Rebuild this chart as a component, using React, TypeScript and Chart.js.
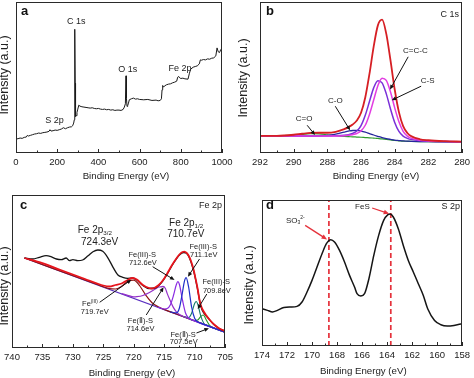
import React, { useEffect, useRef } from 'react';
import { Chart, registerables } from 'chart.js';

Chart.register(...registerables);

const FONT = '"Liberation Sans", Arial, Helvetica, sans-serif';
Chart.defaults.font.family = FONT;

// ---------------- Panel a : survey ----------------
const aEnergy = [0, 10, 20, 30, 40, 50, 55, 60, 70, 80, 90, 100, 110, 120, 130, 140, 150, 160, 165, 170, 180, 190, 200, 210, 220, 230, 240, 250, 260, 270, 275, 280, 283, 284.5, 286, 287.5, 289, 292, 296, 300, 305, 310, 320, 330, 340, 350, 360, 370, 380, 390, 400, 410, 420, 430, 440, 450, 460, 470, 480, 490, 500, 510, 520, 526, 531, 534, 536, 539, 542, 546, 550, 560, 570, 580, 590, 600, 620, 640, 660, 680, 690, 700, 706, 709, 712, 716, 720, 730, 740, 750, 760, 770, 780, 785, 790, 795, 800, 810, 820, 835, 842, 848, 860, 870, 880, 890, 895, 900, 910, 920, 930, 940, 950, 960, 970, 976, 982, 988, 994, 1000];
const aCounts = [42, 43, 45, 44, 47, 48, 53, 51, 53, 55, 57, 58, 60, 59, 61, 62, 63, 65, 70, 66, 67, 69, 68, 70, 72, 76, 73, 76, 78, 79, 82, 90, 100, 220, 372, 210, 110, 112, 122, 132, 144, 141, 139, 138, 137, 136, 135, 136, 134, 133, 134, 132, 131, 132, 130, 131, 129, 130, 128, 129, 129, 128, 131, 138, 148, 232, 165, 140, 142, 150, 160, 163, 165, 162, 163, 161, 160, 161, 158, 159, 157, 158, 163, 190, 203, 198, 201, 205, 207, 208, 211, 213, 216, 228, 230, 226, 224, 225, 223, 222, 240, 252, 258, 260, 262, 268, 280, 279, 281, 280, 283, 282, 285, 286, 292, 316, 304, 302, 311, 309];
const aTicks = [0, 200, 400, 600, 800, 1000];
const aMinor = [100, 300, 500, 700, 900];

// ---------------- Panel b : C 1s ----------------
const bEnergy = [292, 291, 290, 289.5, 289, 288.5, 288, 287.5, 287, 286.75, 286.5, 286.25, 286, 285.75, 285.5, 285.25, 285, 284.75, 284.5, 284.25, 284, 283.75, 283.5, 283.25, 283, 282.5, 282, 281, 280];
const bEnvelope = [51, 51.3, 54.6, 57.6, 60.1, 60.6, 60.6, 63.5, 71.4, 77.4, 85.2, 97.2, 120.3, 166, 236.8, 318.4, 382, 399, 356.5, 277, 190.1, 122.3, 80.4, 59.9, 49.7, 41.1, 38.2, 35.4, 33.9];
const bCCC = [51, 51, 50.9, 50.8, 50.7, 50.7, 50.8, 51, 51.8, 52.8, 54.8, 58.5, 66.3, 83, 115.5, 158.5, 201.5, 224, 217.5, 182.5, 135, 93.5, 65, 50.6, 43.7, 38, 36.2, 34.4, 33.5];
const bCS = [51, 50.8, 50.9, 50.9, 50.9, 50.9, 51.1, 51.5, 52.9, 54.7, 58.5, 65.9, 82, 112.8, 154, 195, 216.5, 210, 177, 131.8, 91.5, 64.5, 50.4, 43.8, 40.1, 36.8, 35.5, 34.2, 33.4];
const bCO = [51, 50.8, 50.8, 50.6, 50.7, 51.1, 52.6, 56.4, 62.7, 65.6, 67.4, 67.5, 65.8, 62.7, 58.3, 53.9, 49.9, 46, 43, 40.7, 38.6, 37.3, 36.1, 35.5, 34.9, 34.3, 34, 33.4, 33.1];
const bCdO = [51, 51.1, 53.5, 55.9, 57.8, 57.3, 54.6, 51.6, 49.5, 48.9, 48.5, 47.8, 47.2, 46.3, 45.5, 44.5, 43.5, 42, 40.5, 39, 37.5, 36.5, 35.5, 35, 34.5, 34, 33.8, 33.3, 33];
const bTicks = [292, 290, 288, 286, 284, 282, 280];
const bMinor = [291, 289, 287, 285, 283, 281];

// ---------------- Panel c : Fe 2p ----------------
const cRawE = [737.95, 736.6, 735.5, 734.4, 733.6, 732.7, 731.9, 731.1, 730.55, 730.0, 729.2, 728.4, 727.5, 726.7, 725.9, 725.1, 724.3, 723.4, 722.6, 721.8, 721.0, 720.15, 719.5, 718.5, 717.5, 716.5, 715.5, 714.5, 713.5, 712.5, 711.8, 711.2, 710.6, 710, 709.5, 709, 708.5, 708, 707, 706, 705];
const cRawI = [90, 89, 90.7, 92.3, 91.3, 89, 88.3, 90, 87.3, 88.3, 87.3, 88, 92.3, 96.3, 98, 96.7, 90.7, 80.7, 73, 70.7, 69.7, 70, 68, 62.5, 59.5, 60, 65, 74, 84.5, 93, 95.5, 94, 86, 73, 58, 42, 35, 31.5, 24.5, 19.5, 16.8];
const cFitE = [737.95, 735, 732, 730, 728, 726, 725, 724, 723, 722, 721, 720.2, 719.5, 718.5, 717.5, 717, 716.5, 716, 715.5, 715, 714.5, 714, 713.5, 713, 712.5, 712, 711.7, 711.3, 711, 710.6, 710.2, 709.8, 709.5, 709.2, 709, 708.7, 708.2, 707.5, 707, 706.5, 706, 705.5, 705];
const cFitI = [90, 84.8, 78, 73.5, 69, 64.5, 62.5, 61.5, 63, 64.5, 68, 70, 68.5, 63, 60, 59.5, 60.5, 62.5, 65.5, 69.5, 74.5, 80, 85, 89.5, 93.5, 96, 96.3, 95, 92.5, 87, 79, 68, 59, 48, 43, 38.5, 33.5, 28, 24.7, 22, 19.8, 18.2, 17];
const cBgE = [737.95, 705];
const cBgI = [90, 15.8];
const cSatE = [737.95, 726, 725, 724, 723, 722, 721, 720, 719, 718, 717, 716, 715, 713, 710, 705];
const cSatI = [90, 63.5, 61.3, 59.4, 59, 61.7, 66.6, 67.9, 62, 52.6, 45.3, 41.3, 38.6, 34, 27.2, 15.8];
const cFe2aE = [722, 721, 720, 719.5, 718.5, 717.5, 716.5, 716, 715.5, 715.2, 714.8, 714.5, 714, 713.5, 713, 712.5, 712, 711, 710, 705];
const cFe2aI = [54.4, 52.7, 51.1, 51.3, 52.5, 55.2, 58.9, 60.8, 61.2, 61.6, 59.5, 54.4, 47.2, 40.6, 36.2, 33.6, 32, 29.5, 27.2, 15.8];
const cFe3aE = [716, 715, 714.5, 714, 713.5, 713, 712.75, 712.5, 712, 711.5, 711, 710.5, 705];
const cFe3aI = [40.8, 39, 39.5, 43, 52, 63.5, 66.4, 63.5, 48, 35, 30, 28.3, 15.8];
const cFe3bE = [714, 713, 712.5, 712, 711.7, 711.4, 711, 710.5, 710, 709.5, 709, 705];
const cFe3bI = [36.2, 35.1, 40, 55.7, 66.2, 70.3, 61.3, 41, 29.7, 26.2, 24.9, 15.8];
const cFe3cE = [712, 711, 710.5, 710, 709.73, 709.5, 709, 708.5, 708, 705];
const cFe3cI = [31.7, 30.3, 34.7, 44.6, 46.5, 44, 32.1, 24.8, 22.7, 15.8];
const cFe2bE = [711, 710, 709.5, 709, 708.6, 708, 707.5, 707, 705];
const cFe2bI = [29.4, 27.4, 27.9, 31.5, 33, 27.1, 22.4, 20.4, 15.8];
const cTicks = [740, 735, 730, 725, 720, 715, 710, 705];
const cMinor = [737.5, 732.5, 727.5, 722.5, 717.5, 712.5, 707.5];

// ---------------- Panel d : S 2p ----------------
const dEnergy = [174, 173.56, 173.16, 172.77, 172.25, 171.7, 171.2, 170.8, 170.4, 170.0, 169.6, 169.2, 168.85, 168.5, 168.2, 167.8, 167.4, 167.0, 166.6, 166.4, 166.1, 165.8, 165.45, 165.06, 164.67, 164.27, 163.93, 163.75, 163.5, 163.1, 162.7, 162.3, 161.9, 161.5, 161.1, 160.75, 160.2, 159.7, 159.18, 158.65, 158.0];
const dCounts = [37.3, 35.6, 34, 35.6, 38.6, 39, 39.6, 44, 54, 65.6, 79, 92.3, 102.3, 106.3, 104, 95.6, 84, 70.6, 59, 52.3, 50, 52.3, 67.3, 90.6, 110.6, 125.6, 131.3, 132, 129, 117.3, 100.6, 85.6, 74, 62.3, 50.6, 37.3, 25.6, 21.3, 20, 20.6, 22.3];
const dRefLines = [168.65, 163.7];
const dTicks = [174, 172, 170, 168, 166, 164, 162, 160, 158];
const dMinor = [173, 171, 169, 167, 165, 163, 161, 159];

type Seg = [string, 'n' | 'sub' | 'sup'];
interface Label { x: number; y: number; segs: Seg[]; size: number; color?: string }
interface Arrow { x1: number; y1: number; x2: number; y2: number; color?: string; width?: number; head?: number }

const aLabels: Label[] = [
  { x: 292, y: 394, segs: [['C 1s', 'n']], size: 9 },
  { x: 543, y: 252, segs: [['O 1s', 'n']], size: 9 },
  { x: 796, y: 255, segs: [['Fe 2p', 'n']], size: 9 },
  { x: 187, y: 99, segs: [['S 2p', 'n']], size: 9 },
];

const bLabels: Label[] = [
  { x: 282.77, y: 305, segs: [['C=C-C', 'n']], size: 8 },
  { x: 282.04, y: 217, segs: [['C-S', 'n']], size: 8 },
  { x: 287.53, y: 156, segs: [['C-O', 'n']], size: 8 },
  { x: 289.38, y: 102, segs: [['C=O', 'n']], size: 8 },
];
const bArrows: Arrow[] = [
  { x1: 283.2, y1: 288, x2: 284.28, y2: 190 },
  { x1: 282.43, y1: 200, x2: 284.18, y2: 158 },
  { x1: 287.53, y1: 140, x2: 286.65, y2: 68 },
  { x1: 289.2, y1: 83, x2: 288.73, y2: 54 },
];

const cLabels: Label[] = [
  { x: 726.4, y: 118, segs: [['Fe 2p', 'n'], ['3/2', 'sub']], size: 10 },
  { x: 725.6, y: 106, segs: [['724.3eV', 'n']], size: 10 },
  { x: 711.4, y: 124.5, segs: [['Fe 2p', 'n'], ['1/2', 'sub']], size: 10 },
  { x: 711.45, y: 114, segs: [['710.7eV', 'n']], size: 10 },
  { x: 718.6, y: 92.7, segs: [['Fe(III)-S', 'n']], size: 7.5 },
  { x: 718.5, y: 85, segs: [['712.6eV', 'n']], size: 7.5 },
  { x: 708.6, y: 101.2, segs: [['Fe(III)-S', 'n']], size: 7.5 },
  { x: 708.5, y: 93.5, segs: [['711.1eV', 'n']], size: 7.5 },
  { x: 706.45, y: 65.7, segs: [['Fe(III)-S', 'n']], size: 7.5 },
  { x: 706.35, y: 57.3, segs: [['709.8eV', 'n']], size: 7.5 },
  { x: 727.2, y: 44, segs: [['Fe', 'n'], ['(III)', 'sup']], size: 7.5 },
  { x: 726.4, y: 36.3, segs: [['719.7eV', 'n']], size: 7.5 },
  { x: 718.9, y: 27.3, segs: [['Fe(Ⅱ)-S', 'n']], size: 7.5 },
  { x: 718.9, y: 19.3, segs: [['714.6eV', 'n']], size: 7.5 },
  { x: 711.9, y: 13.5, segs: [['Fe(Ⅱ)-S', 'n']], size: 7.5 },
  { x: 711.8, y: 6, segs: [['707.5eV', 'n']], size: 7.5 },
];
const cArrows: Arrow[] = [
  { x1: 716.9, y1: 81.3, x2: 713.3, y2: 68 },
  { x1: 709.2, y1: 89, x2: 711.1, y2: 71.3 },
  { x1: 708.0, y1: 54, x2: 709.5, y2: 39 },
  { x1: 725.6, y1: 45.7, x2: 720.4, y2: 68.3 },
  { x1: 717.95, y1: 33, x2: 715.1, y2: 60.7 },
  { x1: 709.7, y1: 15, x2: 707.65, y2: 19.7 },
];

const RED = '#e5323c';
const dLabels: Label[] = [
  { x: 165.97, y: 139, segs: [['FeS', 'n']], size: 8 },
  { x: 171.33, y: 125.6, segs: [['SO', 'n'], ['3', 'sub'], ['2-', 'sup']], size: 8 },
];
const dArrows: Arrow[] = [
  { x1: 165.19, y1: 138, x2: 163.83, y2: 132.3, color: RED, width: 1.3, head: 6 },
  { x1: 170.55, y1: 120.6, x2: 168.8, y2: 106.6, color: RED, width: 1.3, head: 6 },
];

const pts = (xs: number[], ys: number[]) => xs.map((x, i) => ({ x, y: ys[i] }));

const smooth = { cubicInterpolationMode: 'monotone' as const, pointRadius: 0, fill: false };

interface PanelCfg {
  key: string; left: number; top: number;
  axisW: number; axisH: number; padTop: number; padRight: number;
  xMin: number; xMax: number; reverse: boolean; yMax: number;
  ticks: number[]; minor: number[];
  letter: string; letterDx: number; letterDy: number;
  corner: string | null; cornerDx: number; cornerDy: number;
  xTitle: [number, number]; yTitle: [number, number];
  labels: Label[]; arrows: Arrow[];
  datasets: any[];
}

const PW = 237, PH = 189;
const D_YMAX = 146;

const panels: PanelCfg[] = [
  {
    key: 'a', left: 0, top: 0, axisW: 16, axisH: 36, padTop: 2, padRight: 15,
    xMin: 0, xMax: 1000, reverse: false, yMax: 454, ticks: aTicks, minor: aMinor,
    letter: 'a', letterDx: 5, letterDy: 13, corner: null, cornerDx: 0, cornerDy: 0,
    xTitle: [126, 176], yTitle: [5, 75], labels: aLabels, arrows: [],
    datasets: [{ data: pts(aEnergy, aCounts), borderColor: '#1a1a1a', borderWidth: 1, tension: 0, pointRadius: 0, fill: false }],
  },
  {
    key: 'b', left: 237, top: 0, axisW: 23, axisH: 36, padTop: 2, padRight: 9,
    xMin: 280, xMax: 292, reverse: true, yMax: 452, ticks: bTicks, minor: bMinor,
    letter: 'b', letterDx: 6, letterDy: 13, corner: 'C 1s', cornerDx: 3, cornerDy: 15,
    xTitle: [139, 176], yTitle: [6.7, 78], labels: bLabels, arrows: bArrows,
    datasets: [
      { data: pts(bEnergy, bEnvelope), borderColor: '#d61f24', borderWidth: 1.8, ...smooth },
      { data: pts(bEnergy, bCCC), borderColor: '#e23de2', borderWidth: 1.5, ...smooth },
      { data: pts(bEnergy, bCS), borderColor: '#7a2fd8', borderWidth: 1.5, ...smooth },
      { data: pts(bEnergy, bCO), borderColor: '#26269c', borderWidth: 1.3, ...smooth },
      { data: pts(bEnergy, bCdO), borderColor: '#2f9a2f', borderWidth: 1.2, ...smooth },
    ],
  },
  {
    key: 'c', left: 0, top: 189, axisW: 12, axisH: 30, padTop: 6, padRight: 10,
    xMin: 705, xMax: 740, reverse: true, yMax: 153, ticks: cTicks, minor: cMinor,
    letter: 'c', letterDx: 8, letterDy: 14, corner: 'Fe 2p', cornerDx: 3, cornerDy: 13,
    xTitle: [132, 184], yTitle: [5, 97], labels: cLabels, arrows: cArrows,
    datasets: [
      { data: pts(cFitE, cFitI), borderColor: '#e8141c', borderWidth: 1.8, ...smooth },
      { data: pts(cRawE, cRawI), borderColor: '#151515', borderWidth: 1.3, ...smooth },
      { data: pts(cFe3bE, cFe3bI), borderColor: '#1f2fc8', borderWidth: 1.2, ...smooth },
      { data: pts(cFe3aE, cFe3aI), borderColor: '#8a2be2', borderWidth: 1.2, ...smooth },
      { data: pts(cFe2aE, cFe2aI), borderColor: '#9431c9', borderWidth: 1.2, ...smooth },
      { data: pts(cFe3cE, cFe3cI), borderColor: '#167a6a', borderWidth: 1.1, ...smooth },
      { data: pts(cFe2bE, cFe2bI), borderColor: '#2a9a2a', borderWidth: 1.1, ...smooth },
      { data: pts(cSatE, cSatI), borderColor: '#8b1414', borderWidth: 1.2, ...smooth },
      { data: pts(cBgE, cBgI), borderColor: '#5a2fc0', borderWidth: 1.3, tension: 0, pointRadius: 0, fill: false },
    ],
  },
  {
    key: 'd', left: 237, top: 189, axisW: 25, axisH: 32, padTop: 11, padRight: 9,
    xMin: 158, xMax: 174, reverse: true, yMax: D_YMAX, ticks: dTicks, minor: dMinor,
    letter: 'd', letterDx: 4, letterDy: 9, corner: 'S 2p', cornerDx: 2, cornerDy: 9,
    xTitle: [126.3, 182.5], yTitle: [12.5, 96], labels: dLabels, arrows: dArrows,
    datasets: [
      { data: pts(dEnergy, dCounts), borderColor: '#151515', borderWidth: 1.5, ...smooth },
      ...dRefLines.map((e) => ({
        data: [{ x: e, y: 0 }, { x: e, y: D_YMAX }], borderColor: RED, borderWidth: 1.7,
        borderDash: [5, 3], tension: 0, pointRadius: 0, fill: false,
      })),
    ],
  },
];

function drawRich(ctx: CanvasRenderingContext2D, x: number, y: number, segs: Seg[], size: number, color: string) {
  const parts = segs.map(([t, k]) => {
    const s = k === 'n' ? size : size * 0.62;
    ctx.font = `${s}px ${FONT}`;
    return { t, k, s, w: ctx.measureText(t).width };
  });
  const total = parts.reduce((acc, p) => acc + p.w, 0);
  let cx = x - total / 2;
  ctx.textAlign = 'left';
  ctx.textBaseline = 'middle';
  ctx.fillStyle = color;
  for (const p of parts) {
    ctx.font = `${p.s}px ${FONT}`;
    const dy = p.k === 'sub' ? size * 0.32 : p.k === 'sup' ? -size * 0.35 : 0;
    ctx.fillText(p.t, cx, y + dy);
    cx += p.w;
  }
}

function drawArrow(ctx: CanvasRenderingContext2D, x1: number, y1: number, x2: number, y2: number, color: string, width: number, head: number) {
  const ang = Math.atan2(y2 - y1, x2 - x1);
  ctx.strokeStyle = color;
  ctx.fillStyle = color;
  ctx.lineWidth = width;
  ctx.beginPath();
  ctx.moveTo(x1, y1);
  ctx.lineTo(x2 - Math.cos(ang) * head * 0.7, y2 - Math.sin(ang) * head * 0.7);
  ctx.stroke();
  ctx.beginPath();
  ctx.moveTo(x2, y2);
  ctx.lineTo(x2 - head * Math.cos(ang - 0.42), y2 - head * Math.sin(ang - 0.42));
  ctx.lineTo(x2 - head * Math.cos(ang + 0.42), y2 - head * Math.sin(ang + 0.42));
  ctx.closePath();
  ctx.fill();
}

function makeOverlay(p: PanelCfg) {
  return {
    id: 'overlay' + p.key,
    afterDatasetsDraw(chart: any) {
      const { ctx, chartArea: ca, scales } = chart;
      const xs = scales.x, ys = scales.y;
      ctx.save();
      for (const a of p.arrows) {
        drawArrow(ctx, xs.getPixelForValue(a.x1), ys.getPixelForValue(a.y1), xs.getPixelForValue(a.x2), ys.getPixelForValue(a.y2),
          a.color ?? '#111', a.width ?? 1, a.head ?? 5);
      }
      for (const l of p.labels) {
        drawRich(ctx, xs.getPixelForValue(l.x), ys.getPixelForValue(l.y), l.segs, l.size, l.color ?? '#222');
      }
      const L = Math.round(ca.left), T = Math.round(ca.top), R = Math.round(ca.right), B = Math.round(ca.bottom);
      ctx.strokeStyle = '#2a2a2a';
      ctx.lineWidth = 1;
      ctx.strokeRect(L + 0.5, T + 0.5, R - L - 1, B - T - 1);
      ctx.beginPath();
      for (const v of p.ticks) {
        const x = Math.round(xs.getPixelForValue(v)) + 0.5;
        ctx.moveTo(x, B); ctx.lineTo(x, B - 4);
      }
      for (const v of p.minor) {
        const x = Math.round(xs.getPixelForValue(v)) + 0.5;
        ctx.moveTo(x, B); ctx.lineTo(x, B - 2.5);
      }
      ctx.stroke();
      ctx.fillStyle = '#111';
      ctx.font = `bold 13px ${FONT}`;
      ctx.textAlign = 'left';
      ctx.textBaseline = 'alphabetic';
      ctx.fillText(p.letter, L + p.letterDx, T + p.letterDy);
      if (p.corner) {
        ctx.font = `9px ${FONT}`;
        ctx.textAlign = 'right';
        ctx.fillStyle = '#222';
        ctx.fillText(p.corner, R - p.cornerDx, T + p.cornerDy);
      }
      ctx.fillStyle = '#222';
      ctx.font = `9.7px ${FONT}`;
      ctx.textAlign = 'center';
      ctx.textBaseline = 'middle';
      ctx.fillText('Binding Energy (eV)', p.xTitle[0], p.xTitle[1]);
      ctx.save();
      ctx.translate(p.yTitle[0], p.yTitle[1]);
      ctx.rotate(-Math.PI / 2);
      ctx.font = `12.5px ${FONT}`;
      ctx.fillText('Intensity (a.u.)', 0, 0);
      ctx.restore();
      ctx.restore();
    },
  };
}

function Panel({ cfg }: { cfg: PanelCfg }) {
  const ref = useRef<HTMLCanvasElement>(null);
  useEffect(() => {
    const chart = new Chart(ref.current as HTMLCanvasElement, {
      type: 'line',
      data: { datasets: cfg.datasets },
      options: {
        animation: false,
        responsive: false,
        maintainAspectRatio: false,
        devicePixelRatio: 1,
        events: [],
        layout: { padding: { top: cfg.padTop, right: cfg.padRight, left: 0, bottom: 0 } },
        plugins: { legend: { display: false }, tooltip: { enabled: false } },
        scales: {
          x: {
            type: 'linear', min: cfg.xMin, max: cfg.xMax, reverse: cfg.reverse,
            grid: { display: false, drawTicks: false }, border: { display: false },
            afterBuildTicks: (s: any) => { s.ticks = cfg.ticks.map((v) => ({ value: v })); },
            ticks: { autoSkip: false, maxRotation: 0, padding: 4, color: '#222', font: { size: 9.5, family: FONT }, callback: (v: any) => String(v) },
            afterFit: (s: any) => { s.height = cfg.axisH; },
          },
          y: {
            type: 'linear', min: 0, max: cfg.yMax,
            grid: { display: false, drawTicks: false }, border: { display: false },
            ticks: { display: false },
            afterFit: (s: any) => { s.width = cfg.axisW; },
          },
        },
      } as any,
      plugins: [makeOverlay(cfg)],
    });
    return () => chart.destroy();
  }, [cfg]);
  return (
    <canvas
      ref={ref}
      width={PW}
      height={PH}
      style={{ position: 'absolute', left: cfg.left, top: cfg.top, width: PW, height: PH }}
    />
  );
}

export default function App() {
  return (
    <div style={{ position: 'absolute', left: 0, top: 0, width: 474, height: 378, background: '#fff', overflow: 'hidden' }}>
      {panels.map((p) => <Panel key={p.key} cfg={p} />)}
    </div>
  );
}
